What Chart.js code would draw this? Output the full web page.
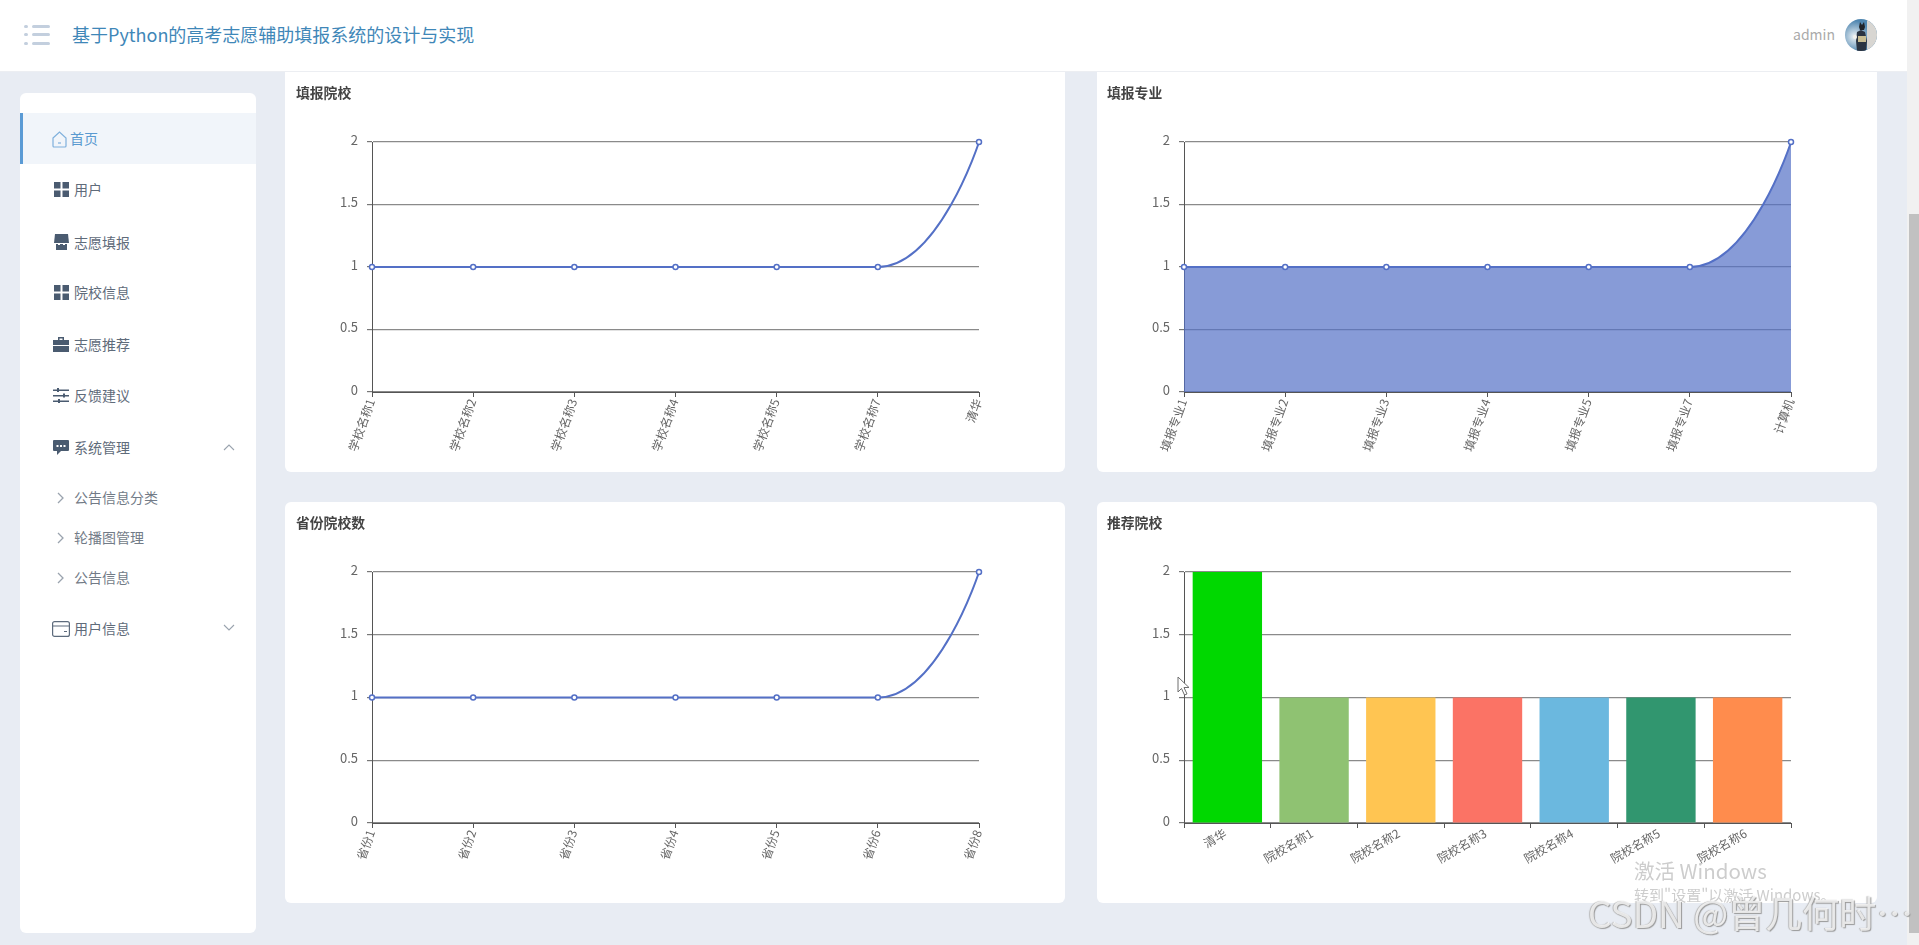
<!DOCTYPE html>
<html lang="zh">
<head>
<meta charset="utf-8">
<title>基于Python的高考志愿辅助填报系统的设计与实现</title>
<script src="https://cdn.jsdelivr.net/npm/chart.js@4/dist/chart.umd.min.js"></script>
<style>
  * { box-sizing: border-box; margin: 0; padding: 0; }
  html, body { width: 1919px; height: 945px; overflow: hidden; background: #e8ecf3; font-family: "Noto Sans CJK SC", "Noto Sans", sans-serif; }
  .abs { position: absolute; white-space: nowrap; }
  #header { position: absolute; left: 0; top: 0; width: 1907px; height: 72px; background: #fff; border-bottom: 1px solid #eceef2; }
  #app-title { left: 72px; top: 34px; transform: translateY(-50%); font-size: 18px; color: #3f87b8; }
  #user { left: 1793px; top: 34px; transform: translateY(-50%); font-size: 14px; color: #aaa; }
  #scroll { position: absolute; left: 1907px; top: 0; width: 12px; height: 945px; background: #f1f1f1; }
  #thumb { position: absolute; left: 2px; top: 214px; width: 10px; height: 719px; background: #c1c1c1; }
  #sidebar { position: absolute; left: 20px; top: 93px; width: 236px; height: 840px; background: #fff; border-radius: 6px; }
  #active { position: absolute; left: 20px; top: 113px; width: 236px; height: 51px; background: #f1f5fa; border-left: 3px solid #5b9bd5; }
  .menu { left: 74px; margin-top: -1px; transform: translateY(-50%); font-size: 14px; color: #5f6b7a; }
  .menu.sub { color: #727b87; }
  .card { position: absolute; background: #fff; border-radius: 6px; width: 780px; }
  .card.upper { border-radius: 0 0 6px 6px; }
  .card canvas { position: absolute; left: 0; top: 0; }
  .card h4 { position: absolute; left: 11px; top: 20px; transform: translateY(-50%); font-size: 13.8px; font-weight: 700; color: #444; white-space: nowrap; z-index: 1; }
  svg { position: absolute; }
  #win1 { left: 1634px; top: 870px; transform: translateY(-50%); font-size: 20.5px; color: #cdcdcd; }
  #win2 { left: 1634px; top: 894px; transform: translateY(-50%); font-size: 15px; color: #cdcdcd; }
  #csdn { left: 1588px; top: 912px; transform: translateY(-50%); font-size: 37px; color: rgba(255,255,255,.75); text-shadow: 1px 1px 1px #9a9a9a, -1px 0 1px #b5b5b5; }
</style>
</head>
<body>
<div id="header"></div>
<svg style="left:24px;top:25px" width="26" height="20" fill="#c3cfde"><rect x="0" y="0" width="4" height="3" rx="1.5"/><rect x="8" y="0" width="18" height="3" rx="1.5"/><rect x="0" y="8" width="4" height="3" rx="1.5"/><rect x="8" y="8" width="18" height="3" rx="1.5"/><rect x="0" y="17" width="4" height="3" rx="1.5"/><rect x="8" y="17" width="18" height="3" rx="1.5"/></svg>
<div class="abs" id="app-title">基于Python的高考志愿辅助填报系统的设计与实现</div>
<div class="abs" id="user">admin</div>
<svg style="left:1845px;top:19px" width="32" height="32"><defs><radialGradient id="av" cx="30%" cy="55%"><stop offset="0" stop-color="#eef3f6"/><stop offset="1" stop-color="#4f86b0"/></radialGradient><clipPath id="avc"><circle cx="16" cy="16" r="16"/></clipPath></defs><circle cx="16" cy="16" r="16" fill="url(#av)"/><g clip-path="url(#avc)"><rect x="22" y="0" width="10" height="32" fill="#d8d6d2"/><path d="M15 3l2 3 2-3 1 5-1 3h-4l-1-3z" fill="#20242a"/><path d="M12 13l4-2 4 2 2 9-1 10H12l-1-10z" fill="#2b3442"/><rect x="13" y="17" width="8" height="6" fill="#c9bd92"/><circle cx="10" cy="18" r="2" fill="#f2f2ee"/></g></svg>
<div id="scroll"><div id="thumb"></div></div>

<div id="sidebar"></div>
<div id="active"></div>
<svg style="left:52px;top:131px" width="15" height="17" fill="none" stroke="#7fb0dc" stroke-width="1.2"><path d="M1 7l6.5-6L14 7v8a1 1 0 0 1-1 1H2a1 1 0 0 1-1-1z"/><path d="M6 12h3"/></svg>
<div class="abs menu" style="left:70px;top:139px;color:#5a9ad0">首页</div>
<svg style="left:54px;top:182px" width="15" height="15" fill="#4a5b70"><rect width="6.5" height="6.5"/><rect x="8.5" width="6.5" height="6.5"/><rect y="8.5" width="6.5" height="6.5"/><rect x="8.5" y="8.5" width="6.5" height="6.5"/></svg>
<div class="abs menu" style="top:190px">用户</div>
<svg style="left:54px;top:234px" width="15" height="16" fill="#4a5b70"><path d="M1 0h13l1 9H0z"/><path d="M2 10h11v6H2z"/><rect x="4" y="9" width="2" height="2" fill="#fff"/><rect x="9" y="9" width="2" height="2" fill="#fff"/></svg>
<div class="abs menu" style="top:243px">志愿填报</div>
<svg style="left:54px;top:285px" width="15" height="15" fill="#4a5b70"><rect width="6.5" height="6.5"/><rect x="8.5" width="6.5" height="6.5"/><rect y="8.5" width="6.5" height="6.5"/><rect x="8.5" y="8.5" width="6.5" height="6.5"/></svg>
<div class="abs menu" style="top:293px">院校信息</div>
<svg style="left:53px;top:337px" width="16" height="15" fill="#4a5b70"><path d="M5 0h6v3h-1.500V1.500h-3V3H5z"/><rect y="3" width="16" height="5"/><rect y="9" width="16" height="6"/></svg>
<div class="abs menu" style="top:345px">志愿推荐</div>
<svg style="left:53px;top:388px" width="16" height="15" fill="#4a5b70"><rect y="1.500" width="16" height="1.500"/><rect y="7" width="16" height="1.500"/><rect y="12.500" width="16" height="1.500"/><rect x="4" y="0" width="2" height="4"/><rect x="10" y="5.500" width="2" height="4"/><rect x="5" y="11" width="2" height="4"/></svg>
<div class="abs menu" style="top:396px">反馈建议</div>
<svg style="left:53px;top:440px" width="16" height="15" fill="#4a5b70"><path d="M1 0h14a1 1 0 0 1 1 1v9a1 1 0 0 1-1 1H8l-4 4v-4H1a1 1 0 0 1-1-1V1a1 1 0 0 1 1-1z"/><g fill="#fff"><rect x="3.500" y="5" width="2" height="2"/><rect x="7" y="5" width="2" height="2"/><rect x="10.500" y="5" width="2" height="2"/></g></svg>
<div class="abs menu" style="top:448px">系统管理</div>
<svg style="left:223px;top:444px" width="12" height="7" fill="none" stroke="#9aa3ae" stroke-width="1.100"><path d="M1 6l5-5 5 5"/></svg>
<svg style="left:57px;top:492px" width="7" height="12" fill="none" stroke="#9aa3ae" stroke-width="1.300"><path d="M1 1l5 5-5 5"/></svg>
<div class="abs menu sub" style="top:498px">公告信息分类</div>
<svg style="left:57px;top:532px" width="7" height="12" fill="none" stroke="#9aa3ae" stroke-width="1.300"><path d="M1 1l5 5-5 5"/></svg>
<div class="abs menu sub" style="top:538px">轮播图管理</div>
<svg style="left:57px;top:572px" width="7" height="12" fill="none" stroke="#9aa3ae" stroke-width="1.300"><path d="M1 1l5 5-5 5"/></svg>
<div class="abs menu sub" style="top:578px">公告信息</div>
<svg style="left:52px;top:621px" width="18" height="16" fill="none" stroke="#5d6b7c" stroke-width="1.200"><rect x=".6" y=".6" width="16.800" height="14.800" rx="2"/><path d="M1 5h16M12 10.500h3"/></svg>
<div class="abs menu" style="top:629px">用户信息</div>
<svg style="left:223px;top:624px" width="12" height="7" fill="none" stroke="#9aa3ae" stroke-width="1.100"><path d="M1 1l5 5 5-5"/></svg>

<div class="card upper" style="left:285px;top:72px;height:400px"><h4>填报院校</h4><canvas id="school-chart" width="780" height="400"></canvas></div>
<div class="card upper" style="left:1097px;top:72px;height:400px"><h4 style="left:10px">填报专业</h4><canvas id="major-chart" width="780" height="400"></canvas></div>
<div class="card" style="left:285px;top:502px;height:401px"><h4>省份院校数</h4><canvas id="province-chart" width="780" height="401"></canvas></div>
<div class="card" style="left:1097px;top:502px;height:401px"><h4 style="left:10px">推荐院校</h4><canvas id="recommend-chart" width="780" height="401"></canvas></div>

<svg style="left:1177px;top:676px" width="14" height="21"><path d="M1 1v15l3.500-3.500 3 6.500 2.500-1-3-6.500h5z" fill="#fff" stroke="#6e6e6e"/></svg>
<div class="abs" id="win1">激活 Windows</div>
<div class="abs" id="win2">转到"设置"以激活 Windows。</div>
<div class="abs" id="csdn">CSDN @曾几何时…</div>

<script>
// Data
const schoolLabels = ['学校名称1', '学校名称2', '学校名称3', '学校名称4', '学校名称5', '学校名称7', '清华'];
const schoolValues = [1, 1, 1, 1, 1, 1, 2];
const majorLabels = ['填报专业1', '填报专业2', '填报专业3', '填报专业4', '填报专业5', '填报专业7', '计算机'];
const majorValues = [1, 1, 1, 1, 1, 1, 2];
const provinceLabels = ['省份1', '省份2', '省份3', '省份4', '省份5', '省份6', '省份8'];
const provinceValues = [1, 1, 1, 1, 1, 1, 2];
const recommendLabels = ['清华', '院校名称1', '院校名称2', '院校名称3', '院校名称4', '院校名称5', '院校名称6'];
const recommendValues = [2, 1, 1, 1, 1, 1, 1];
const barColors = ['#00d800', '#8fc272', '#ffc552', '#fb7365', '#6bb8df', '#31966f', '#ff8c4d'];

const lineColor = '#5470c6';
const fontFamily = '"Noto Sans CJK SC", "Noto Sans", sans-serif';

// Same bend as the original's smooth line: flat out of a point, steep into the next one
const flatCurve = {
    id: 'flatCurve',
    afterDatasetsUpdate(chart) {
        const meta = chart.getDatasetMeta(0);
        if (meta.type !== 'line') return;
        meta.dataset.updateControlPoints(chart.chartArea, 'x');
        meta.data.forEach((p, i) => {
            const next = meta.data[i + 1];
            p.cp1x = p.x;
            p.cp1y = p.y;
            if (next) {
                p.cp2x = p.x + (next.x - p.x) * 0.6;
                p.cp2y = p.y;
            }
        });
    }
};

function scales(rotation, shift) {
    return {
        x: {
            offset: false,
            afterFit: (s) => { s.height = 80; },
            border: { color: '#555' },
            grid: { drawOnChartArea: false, tickLength: 5, tickColor: '#555' },
            ticks: { autoSkip: false, minRotation: rotation, maxRotation: rotation, padding: 0, labelOffset: shift, color: '#666', font: { family: fontFamily, size: 12 } }
        },
        y: {
            min: 0,
            max: 2,
            afterFit: (s) => { s.width = 87; },
            border: { color: '#555' },
            grid: { color: '#8a8a8a', lineWidth: 1.2, tickLength: 5, tickColor: '#777' },
            ticks: { stepSize: 0.5, padding: 9, labelOffset: -2, color: '#666', font: { family: fontFamily, size: 13 }, callback: (v) => String(v) }
        }
    };
}

function baseOptions(rotation, shift) {
    return {
        responsive: false,
        animation: false,
        events: [],
        layout: { padding: { top: 70, right: 86 } },
        plugins: { legend: { display: false }, tooltip: { enabled: false } },
        scales: scales(rotation, shift)
    };
}

function lineChart(id, labels, values, filled) {
    return new Chart(document.getElementById(id), {
        type: 'line',
        data: {
            labels: labels,
            datasets: [{
                data: values,
                clip: false,
                tension: 0.4,
                borderColor: lineColor,
                borderWidth: 2,
                fill: filled ? 'origin' : false,
                backgroundColor: 'rgba(84,112,198,0.7)',
                pointRadius: 2.5,
                pointBorderWidth: 1.5,
                pointBackgroundColor: '#fff',
                pointBorderColor: lineColor
            }]
        },
        options: baseOptions(70, -1),
        plugins: [flatCurve]
    });
}

lineChart('school-chart', schoolLabels, schoolValues, false);
lineChart('major-chart', majorLabels, majorValues, true);
lineChart('province-chart', provinceLabels, provinceValues, false);

const barOptions = baseOptions(30, -2);
barOptions.scales.x.offset = true;
barOptions.scales.x.grid.offset = true;
barOptions.scales.x.ticks.padding = -2;

new Chart(document.getElementById('recommend-chart'), {
    type: 'bar',
    data: {
        labels: recommendLabels,
        datasets: [{ data: recommendValues, backgroundColor: barColors, barPercentage: 0.8, categoryPercentage: 1 }]
    },
    options: barOptions
});
</script>
</body>
</html>
